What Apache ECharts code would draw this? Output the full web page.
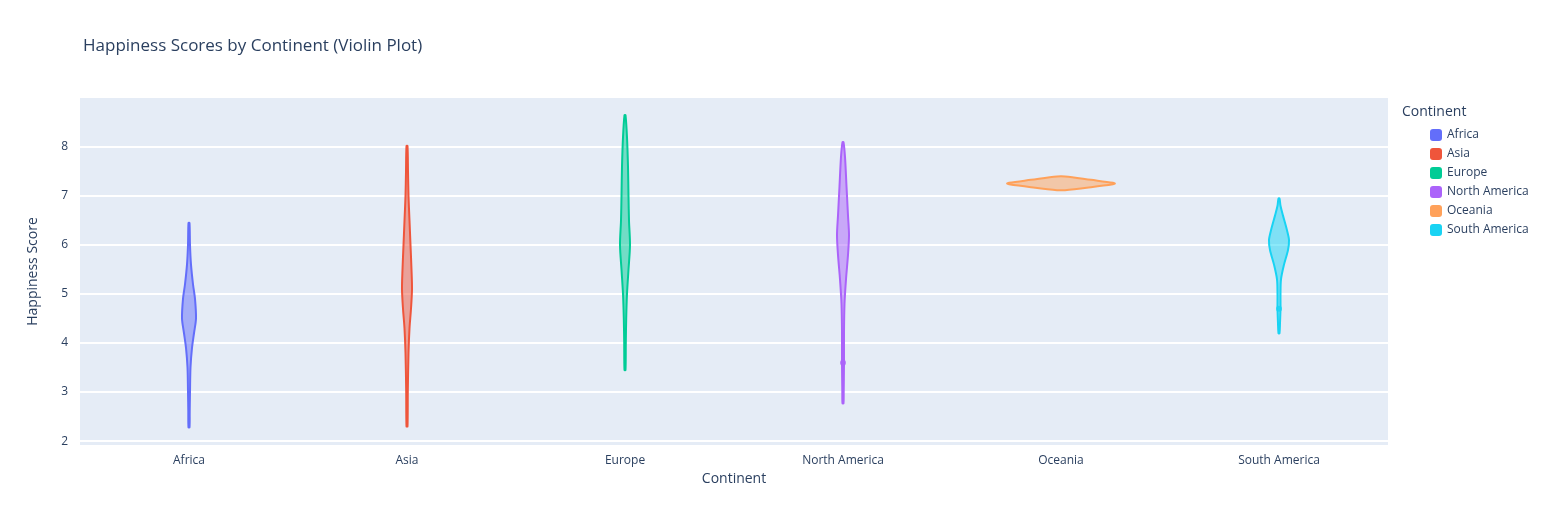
<!DOCTYPE html>
<html><head><meta charset="utf-8">
<script src="https://cdn.jsdelivr.net/npm/echarts@6/dist/echarts.min.js"></script>
<style>html,body{margin:0;padding:0;background:#fff}#c{width:1560px;height:525px}</style>
</head><body><div id="c"></div>
<script>
const continents = ['Africa','Asia','Europe','North America','Oceania','South America'];
const colors = ['#636efa','#EF553B','#00cc96','#ab63fa','#FFA15A','#19d3f3'];
// density profiles: [score, half-width (px at 218px band)]
const africa = [[6.45,0.5],[6.0,1],[5.6,2],[5.2,4],[4.9,6],[4.5,7],[4.2,5],[3.9,3],[3.5,1.5],[3.0,1],[2.6,0.7],[2.28,0.5]];
const asia = [[8.02,0.5],[7.5,1],[7.0,1.5],[6.5,2.5],[6.0,3.5],[5.5,4.5],[5.1,5],[4.7,4],[4.3,2.5],[3.8,1.5],[3.0,0.8],[2.3,0.5]];
const europe = [[8.65,0.5],[8.2,2],[7.6,3],[7.0,3.5],[6.5,4],[6.0,5],[5.5,3.5],[5.0,2],[4.5,1.2],[4.0,0.8],[3.45,0.5]];
const northAmerica = [[8.1,0.5],[7.8,2],[7.2,3.5],[6.6,5],[6.2,6],[5.8,5],[5.3,3],[4.8,1.5],[4.2,1],[3.6,1],[3.0,0.7],[2.77,0.5]];
const oceania = [[7.40,4],[7.33,30],[7.27,52],[7.255,54],[7.24,52],[7.18,30],[7.12,4]];
const southAmerica = [[6.95,0.5],[6.8,1.5],[6.6,4],[6.3,8],[6.1,10],[5.9,9],[5.6,5],[5.3,2],[5.0,1.5],[4.7,1.5],[4.4,1],[4.2,0.5]];
const profiles = [africa, asia, europe, northAmerica, oceania, southAmerica];
const outliers = [[3,3.6],[5,4.7]];
const yTicks = [2,3,4,5,6,7,8];

function hexA(h,a){const n=parseInt(h.slice(1),16);return `rgba(${n>>16},${(n>>8)&255},${n&255},${a})`;}

const series = continents.map((name,i)=>({
  name, type:'custom', color: colors[i],
  data:[[i]],
  encode:{x:0},
  renderItem:(params,api)=>{
    const s = api.size([1,0])[0]/218;
    const prof = profiles[i];
    const right = prof.map(p=>{const c=api.coord([i,p[0]]);return [c[0]+p[1]*s,c[1]];});
    const left = prof.slice().reverse().map(p=>{const c=api.coord([i,p[0]]);return [c[0]-p[1]*s,c[1]];});
    return {type:'polygon', shape:{points:right.concat(left), smooth:0.3},
      style:{fill:hexA(colors[i],0.5), stroke:colors[i], lineWidth:2}};
  }
}));
series.push({type:'scatter', name:'pts', data:outliers.map(o=>({value:o,itemStyle:{color:colors[o[0]]}})), symbolSize:6, silent:true});

const chart = echarts.init(document.getElementById('c'));
chart.setOption({
  animation:false,
  backgroundColor:'#fff',
  title:{text:'Happiness Scores by Continent (Violin Plot)', left:78, top:33,
    textStyle:{fontFamily:'Open Sans',fontSize:17,fontWeight:'normal',color:'#2a3f5f'}},
  legend:{data:continents.map(n=>({name:n,icon:'roundRect'})), orient:'vertical', left:1425, top:124,
    itemWidth:12, itemHeight:12, itemGap:7,
    textStyle:{fontFamily:'Open Sans',fontSize:12,color:'#2a3f5f'}},
  graphic:[{type:'text', left:1402, top:105, style:{text:'Continent', font:'14px "Open Sans"', fill:'#2a3f5f'}}],
  grid:{left:80,right:172,top:98,bottom:80,backgroundColor:'#E5ECF6',show:true,borderWidth:0},
  xAxis:{type:'category', data:continents, name:'Continent', nameLocation:'middle', nameGap:27,
    nameTextStyle:{fontFamily:'Open Sans',fontSize:14,color:'#2a3f5f'},
    axisLine:{show:false}, axisTick:{show:false},
    axisLabel:{fontFamily:'Open Sans',fontSize:12,color:'#2a3f5f',margin:10}},
  yAxis:{type:'value', min:1.92, max:9.0, name:'Happiness Score', nameLocation:'middle', nameGap:40,
    nameTextStyle:{fontFamily:'Open Sans',fontSize:14,color:'#2a3f5f'},
    axisLine:{show:false}, axisTick:{show:false, customValues:yTicks},
    axisLabel:{customValues:yTicks, fontFamily:'Open Sans',fontSize:12,color:'#2a3f5f',margin:12},
    splitLine:{show:true, lineStyle:{color:'#fff',width:2}}},
  series
});
</script></body></html>
